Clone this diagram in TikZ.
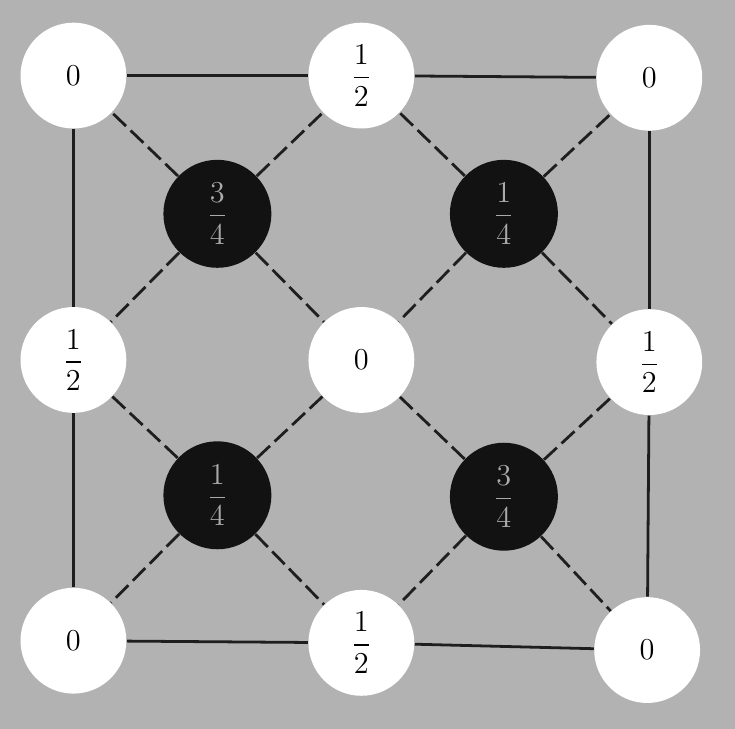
\documentclass[tikz,border=0pt]{standalone}
\usepackage{amsmath}
\usepackage{xcolor}
\usepackage{tikz}
\usetikzlibrary{positioning}

\definecolor{paper}{RGB}{178,178,178}
\definecolor{ink}{RGB}{30,30,30}
\definecolor{faint}{RGB}{170,170,170}

\begin{document}
\begin{tikzpicture}[white/.style={draw=none, circle, fill=white, minimum size=1.47cm, inner sep=0pt, text centered, text=black, font=\large},
                    dark/.style={draw=none, circle, fill=black!93, minimum size=1.5cm, inner sep=0pt, text centered, text=faint, font=\large},
                    bond/.style={ink, line width=1.1pt, dash pattern=on 7pt off 2.5pt},
                    face/.style={ink, line width=1.1pt}]
                        \fill[paper] (-5.02,-5.12) rectangle (5.19,5.0);
                        \useasboundingbox (-5.02,-5.12) rectangle (5.19,5.0);
                        \node[white] (tl) at (-4, 3.95) {$0$};
                        \node[white] (tm) at (0, 3.95) {$\dfrac{1}{2}$};
                        \node[white] (tr) at (4, 3.92) {$0$};
                        \node[white] (ml) at (-4, 0) {$\dfrac{1}{2}$};
                        \node[white] (c) at (0, 0) {$0$};
                        \node[white] (mr) at (4, -0.03) {$\dfrac{1}{2}$};
                        \node[white] (bl) at (-4, -3.9) {$0$};
                        \node[white] (bm) at (0, -3.93) {$\dfrac{1}{2}$};
                        \node[white] (br) at (3.97, -4.03) {$0$};
                        \node[dark] (p) at (-2, 2.03) {$\dfrac{3}{4}$};
                        \node[dark] (q) at (1.98, 2.03) {$\dfrac{1}{4}$};
                        \node[dark] (r) at (-2, -1.88) {$\dfrac{1}{4}$};
                        \node[dark] (s) at (1.98, -1.9) {$\dfrac{3}{4}$};
                        % cube faces
                        \draw [face] (tl) -- (tm);
                        \draw [face] (tm) -- (tr);
                        \draw [face] (tr) -- (mr);
                        \draw [face] (mr) -- (br);
                        \draw [face] (br) -- (bm);
                        \draw [face] (bm) -- (bl);
                        \draw [face] (bl) -- (ml);
                        \draw [face] (ml) -- (tl);
                        % bonds
                        \draw [bond] (p) -- (tl);
                        \draw [bond] (p) -- (tm);
                        \draw [bond] (p) -- (ml);
                        \draw [bond] (p) -- (c);
                        \draw [bond] (q) -- (tm);
                        \draw [bond] (q) -- (tr);
                        \draw [bond] (q) -- (c);
                        \draw [bond] (q) -- (mr);
                        \draw [bond] (r) -- (ml);
                        \draw [bond] (r) -- (c);
                        \draw [bond] (r) -- (bl);
                        \draw [bond] (r) -- (bm);
                        \draw [bond] (s) -- (c);
                        \draw [bond] (s) -- (mr);
                        \draw [bond] (s) -- (bm);
                        \draw [bond] (s) -- (br);
                        \end{tikzpicture}
\end{document}
